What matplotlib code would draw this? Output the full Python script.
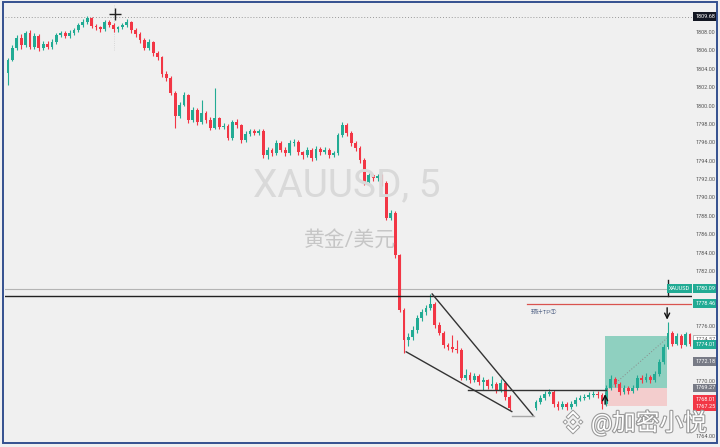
import numpy as np
import matplotlib
matplotlib.use("Agg")
import matplotlib.pyplot as plt
import matplotlib.transforms as mtransforms
import matplotlib.patheffects as pe
from matplotlib.patches import Rectangle, Polygon
from matplotlib.lines import Line2D

plt.rcParams['font.family'] = ['Roboto', 'Noto Sans CJK SC', 'DejaVu Sans']

nan = np.nan

# XAUUSD 5 min candles (nan = market break)
first_open = 1803.5
closes = [
    1805.0, 1806.3, 1807.4, 1806.6, 1807.9, 1806.4, 1807.6, 1806.3, 1806.7, 1806.4,
    1806.9, 1807.7, 1807.9, 1807.6, 1807.9, 1808.2, 1808.8, 1809.1, 1809.5, 1808.7,
    1808.5, 1808.3, 1809.1, 1808.8, 1808.3, 1808.5, 1808.8, 1809.1, 1808.2, 1807.8,
    1807.1, 1806.3, 1806.9, 1805.7, 1805.3, 1803.4, 1803.0, 1801.4, 1798.9, 1800.1,
    1801.1, 1798.4, 1799.5, 1798.2, 1799.2, 1798.4, 1797.6, 1798.6, 1797.7, 1797.8,
    1796.5, 1798.2, 1797.9, 1796.3, 1796.9, 1797.2, 1797.0, 1797.2, 1794.6, 1795.2,
    1794.8, 1795.9, 1795.2, 1794.8, 1795.9, 1796.0, 1794.9, 1794.6, 1795.2, 1794.3,
    1795.3, 1794.9, 1795.2, 1794.6, 1794.8, 1796.8, 1797.9, 1797.0, 1795.9, 1795.4,
    1794.1, 1791.7, 1792.4, 1792.1, 1792.3, 1791.6, 1787.8, 1788.3, 1783.7, 1777.8,
    1774.5, 1774.8, 1775.6, 1776.9, 1777.5, 1778.0, 1778.4, 1776.1, 1775.3, 1773.9,
    1773.7, 1773.5, 1773.4, 1770.4, 1770.7, 1770.1, 1770.6, 1769.9, 1770.1, 1769.5,
    1769.7, 1769.0, 1769.8, 1768.3, 1767.1, nan, nan, nan, nan, nan,
    1767.7, 1768.2, 1768.6, 1768.8, 1767.5, 1767.2, 1767.5, 1767.2, 1767.5, 1768.0,
    1768.2, 1768.3, 1768.5, 1768.6, 1768.5, 1767.5, 1769.3, 1770.2, 1769.7, 1768.8,
    1769.3, 1768.9, 1769.3, 1770.4, 1770.1, 1770.5, 1770.1, 1770.8, 1772.1, 1773.7,
    1775.3, 1774.1, 1774.9, 1773.9, 1775.1, 1774.0,
]
highs = [
    1805.2, 1806.6, 1807.7, 1807.8, 1808.1, 1808.2, 1807.9, 1807.8, 1807.0, 1807.0,
    1807.2, 1807.9, 1808.1, 1808.1, 1808.2, 1808.4, 1809.0, 1809.4, 1809.7, 1809.6,
    1808.9, 1808.7, 1809.3, 1809.3, 1809.0, 1808.7, 1809.0, 1809.4, 1809.2, 1808.4,
    1808.0, 1807.3, 1807.2, 1807.0, 1805.9, 1805.4, 1803.8, 1803.2, 1801.6, 1800.4,
    1801.5, 1801.3, 1799.8, 1799.7, 1800.6, 1799.4, 1798.7, 1801.9, 1798.8, 1798.1,
    1798.0, 1798.4, 1798.5, 1798.0, 1797.2, 1797.5, 1797.5, 1797.5, 1797.4, 1795.5,
    1795.4, 1796.2, 1796.1, 1795.5, 1796.2, 1796.4, 1796.2, 1795.1, 1795.5, 1795.4,
    1795.6, 1795.5, 1795.5, 1795.4, 1795.1, 1797.0, 1798.2, 1798.1, 1797.2, 1796.1,
    1795.6, 1794.3, 1792.7, 1792.6, 1792.6, 1792.5, 1791.8, 1788.6, 1788.5, 1783.9,
    1778.0, 1775.2, 1776.0, 1777.2, 1777.9, 1778.3, 1779.5, 1778.6, 1776.4, 1775.5,
    1774.2, 1775.0, 1774.5, 1773.6, 1771.3, 1771.0, 1770.9, 1770.8, 1770.5, 1770.3,
    1770.6, 1769.9, 1770.2, 1770.0, 1768.5, nan, nan, nan, nan, nan,
    1768.0, 1768.5, 1768.9, 1769.2, 1769.0, 1767.8, 1767.8, 1767.7, 1767.8, 1768.3,
    1768.5, 1768.6, 1768.8, 1768.9, 1768.9, 1768.7, 1769.6, 1770.7, 1770.5, 1769.9,
    1769.6, 1769.5, 1769.6, 1770.7, 1770.7, 1770.9, 1770.7, 1771.1, 1772.4, 1774.0,
    1776.4, 1775.5, 1775.3, 1775.1, 1775.4, 1775.3,
]
lows = [
    1802.2, 1804.8, 1806.0, 1806.2, 1806.4, 1806.1, 1806.2, 1805.9, 1806.0, 1806.1,
    1806.2, 1806.7, 1807.5, 1807.4, 1807.4, 1807.7, 1808.0, 1808.6, 1808.9, 1808.4,
    1808.2, 1808.0, 1808.1, 1808.5, 1808.0, 1808.0, 1808.3, 1808.6, 1807.9, 1807.5,
    1806.8, 1806.0, 1806.0, 1805.4, 1805.0, 1803.1, 1802.7, 1801.1, 1797.6, 1798.6,
    1799.9, 1798.1, 1798.2, 1797.9, 1798.0, 1798.1, 1797.3, 1797.4, 1797.4, 1797.5,
    1796.2, 1796.3, 1797.6, 1795.9, 1796.0, 1796.7, 1796.8, 1796.8, 1794.3, 1794.2,
    1794.5, 1794.6, 1794.9, 1794.5, 1794.6, 1795.6, 1794.6, 1794.2, 1794.4, 1794.0,
    1794.1, 1794.6, 1794.7, 1794.3, 1794.4, 1794.6, 1796.6, 1796.7, 1795.6, 1795.1,
    1793.8, 1791.4, 1791.4, 1791.8, 1791.8, 1791.2, 1787.5, 1787.5, 1783.4, 1777.5,
    1773.1, 1773.8, 1774.5, 1775.3, 1776.6, 1777.2, 1777.7, 1775.8, 1775.0, 1773.6,
    1773.4, 1773.2, 1773.1, 1770.1, 1770.1, 1769.8, 1769.9, 1769.6, 1769.0, 1769.2,
    1769.3, 1768.7, 1768.8, 1768.0, 1766.9, nan, nan, nan, nan, nan,
    1766.9, 1767.5, 1768.0, 1768.4, 1767.2, 1766.9, 1767.0, 1766.9, 1767.0, 1767.3,
    1767.8, 1768.0, 1768.1, 1768.3, 1768.2, 1767.0, 1767.3, 1769.1, 1769.4, 1768.5,
    1768.6, 1768.6, 1768.7, 1769.1, 1769.8, 1769.9, 1769.8, 1769.9, 1770.6, 1771.9,
    1773.5, 1773.8, 1773.9, 1773.6, 1773.8, 1773.8,
]

# price scale; the ones hidden behind labels or the stamp stay blank
price_ticks = np.arange(1764, 1809, 2)
hidden_ticks = [1766, 1768, 1772, 1774, 1778, 1780]
session_high = 1809.68
last_price = 1780.09
tp_price = 1778.46
resistance = 1779.3
neckline = 1769.05
entry, target, stop = 1769.3, 1774.9, 1767.3

UP = '#22ab94'
DOWN = '#f23645'
BG = '#f0f0f0'

fig = plt.figure(figsize=(7.2, 4.47), dpi=100, facecolor=BG)
ax = fig.add_axes([5 / 720, 6 / 447, 687 / 720, 436 / 447])
ax.set_facecolor(BG)
for s in ax.spines.values():
    s.set_visible(False)

# candles
prev = first_open
for i in range(len(closes)):
    c = closes[i]
    if np.isnan(c):
        continue
    o = prev
    col = UP if c >= o else DOWN
    ax.vlines(i, lows[i], highs[i], color=col, lw=0.8, zorder=3)
    ax.bar(i, max(abs(c - o), 0.06), bottom=min(o, c), width=0.62,
           color=col, zorder=3, linewidth=0)
    prev = c

ax.set_xlim(-0.68, 155.45)
ax.set_ylim(1763.5, 1810.94)
ax.set_xticks([])
ax.yaxis.tick_right()
ax.set_yticks(price_ticks)
ax.set_yticklabels(['' if t in hidden_ticks else f'{t:.2f}' for t in price_ticks])
ax.tick_params(axis='y', length=0, pad=2.5, labelsize=4.0, labelcolor='#555555')

# drawings
ax.axhline(session_high, color='#9a9a9a', lw=0.7, ls=(0, (1, 2)), zorder=1)
ax.plot([24.3], [1809.96], marker='+', ms=8, mew=1.0, color='#222222', zorder=5)
ax.plot([24.1, 24.1], [1806.0, 1810.9], color='#cfcfcf', lw=0.6, ls=':', zorder=1)
ax.plot([-1, 150], [last_price, last_price], color='#b4b4b4', lw=0.8, zorder=2)
ax.axhline(resistance, color='#222222', lw=1.0, zorder=4)
ax.plot([150, 150], [resistance, 1781.0], color='#222222', lw=1.0, zorder=4)
ax.plot([118, 156], [tp_price, tp_price], color='#d9534f', lw=0.9, zorder=4)
ax.text(118.7, 1777.3, '预计TP①', fontsize=4.5, color='#5b6b8c', zorder=5)

# falling wedge
ax.plot([96.4, 119.3], [1779.5, 1766.3], color='#333333', lw=1.0, zorder=4)
ax.plot([90.5, 114.5], [1773.2, 1766.7], color='#333333', lw=1.0, zorder=4)
ax.plot([114.5, 119.5], [1766.2, 1766.2], color='#a8a8a8', lw=1.0, zorder=4)
ax.plot([104.5, 135.9], [neckline, neckline], color='#333333', lw=1.0, zorder=4)

# long position box
ax.add_patch(Rectangle((135.7, entry), 14.1, target - entry, fc='#8fd0c0',
                       ec='none', zorder=2))
ax.add_patch(Rectangle((135.7, stop), 14.1, entry - stop, fc='#f3cdcd',
                       ec='none', zorder=2))
ax.plot([135.7, 149.8], [1768.8, 1774.7], color='#8a8a8a', lw=0.7,
        ls=(0, (1, 2)), zorder=4)

# arrows
ax.annotate('', xy=(135.7, 1768.9), xytext=(135.7, 1767.2),
            arrowprops=dict(arrowstyle='->', lw=1.0, color='#111111',
                            mutation_scale=9), zorder=6)
ax.annotate('', xy=(149.8, 1776.4), xytext=(149.8, 1778.3),
            arrowprops=dict(arrowstyle='->', lw=1.0, color='#111111',
                            mutation_scale=9), zorder=6)

# price scale labels
tr = mtransforms.blended_transform_factory(ax.transAxes, ax.transData)
boxes = [
    (session_high, '#131722', 'white', 'none'),
    (last_price, UP, 'white', 'none'),
    (tp_price, UP, 'white', 'none'),
    (1774.57, 'white', '#666666', '#999999'),
    (1774.01, UP, 'white', 'none'),
    (1772.18, '#787b86', 'white', 'none'),
    (1769.27, '#787b86', 'white', 'none'),
    (1768.01, DOWN, 'white', 'none'),
    (1767.25, DOWN, 'white', 'none'),
]
for p, fc, tc, ec in boxes:
    ax.text(1.0045, p, f'{p:.2f}', transform=tr, ha='left', va='center',
            fontsize=4.0, color=tc, zorder=10, clip_on=False,
            bbox=dict(boxstyle='square,pad=0.35', fc=fc, ec=ec, lw=0.5))
ax.text(0.966, last_price, 'XAUUSD', transform=tr, ha='left', va='center',
        fontsize=4.0, color='white', zorder=10,
        bbox=dict(boxstyle='square,pad=0.35', fc=UP, ec='none'))

# watermark
fig.text(347 / 720, 1 - 186 / 447, 'XAUUSD, 5', ha='center', va='center',
         fontsize=28, color='#d9d9d9', zorder=0)
fig.add_artist(Line2D([258 / 720, 385 / 720], [1 - 215 / 447, 1 - 215 / 447],
                      color='#dadada', lw=0.8, zorder=0))
fig.add_artist(Line2D([288 / 720, 302 / 720], [1 - 233 / 447, 1 - 233 / 447],
                      color='#d0d0d0', lw=0.8, zorder=0))
fig.text(350 / 720, 1 - 241 / 447, '黄金/美元', ha='center', va='center',
         fontsize=15, color='#c6c6c6', zorder=0)

# author stamp bottom right
stamp = fig.text(591 / 720, 1 - 423 / 447, '@加密小悦', ha='left', va='center',
                 fontsize=17, color='white', zorder=20)
stamp.set_path_effects([pe.withStroke(linewidth=1.6, foreground='#9a9a9a')])
lax = fig.add_axes([559 / 720, 1 - 436 / 447, 28 / 720, 28 / 447])
lax.set_xlim(-4.7, 4.7)
lax.set_ylim(-4.7, 4.7)
lax.axis('off')
lax.set_zorder(20)
shapes = [
    [(0, 1.0), (1.0, 0), (0, -1.0), (-1.0, 0)],
    [(-2.6, 0.75), (-1.85, 0), (-2.6, -0.75), (-3.35, 0)],
    [(2.6, 0.75), (3.35, 0), (2.6, -0.75), (1.85, 0)],
    [(0, 4.0), (2.3, 1.7), (1.6, 1.0), (0, 2.6), (-1.6, 1.0), (-2.3, 1.7)],
    [(0, -4.0), (2.3, -1.7), (1.6, -1.0), (0, -2.6), (-1.6, -1.0), (-2.3, -1.7)],
]
for pts in shapes:
    lax.add_patch(Polygon(pts, closed=True, fc='white', ec='#999999', lw=0.7))

# outer frame
fig.add_artist(Rectangle((3 / 720, 4 / 447), 714 / 720, 441 / 447, fill=False,
                         ec='#34508f', lw=1.4, transform=fig.transFigure,
                         zorder=30))

fig.savefig('out.png', dpi=100, facecolor=BG)
